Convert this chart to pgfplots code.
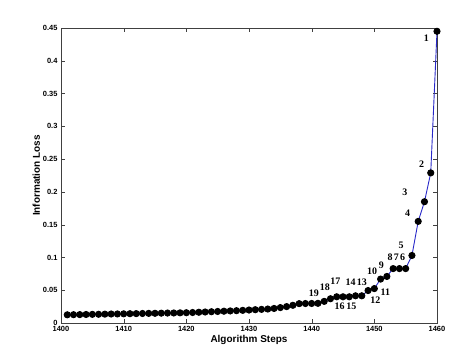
\documentclass[border=0pt]{standalone}
\usepackage{pgfplots}
\pgfplotsset{compat=1.18}
\usepackage{fontspec}
\setmainfont{Liberation Sans}
\newfontfamily\serifnum{Liberation Serif}
\definecolor{lineblue}{RGB}{40,40,200}
\begin{document}
\begin{tikzpicture}[x=1bp,y=1bp]
\begin{axis}[
  scale only axis,
  width=376bp, height=295bp,
  xmin=1400, xmax=1460, ymin=0, ymax=0.45,
  xtick={1400,1410,...,1460},
  ytick={0,0.05,...,0.45},
  axis line style={black!75},
  tick style={black!75, major tick length=4bp},
  tick align=inside,
  /pgf/number format/assume math mode=true,
  xticklabel style={font=\fontsize{7.5}{8}\selectfont\bfseries, /pgf/number format/1000 sep={}},
  yticklabel style={font=\fontsize{7.5}{8}\selectfont\bfseries, /pgf/number format/fixed, /pgf/number format/precision=2},
  scaled y ticks=false,
  xlabel={Algorithm Steps},
  ylabel={Information Loss},
  xlabel style={font=\fontsize{10}{12}\selectfont\bfseries, yshift=3bp},
  ylabel style={font=\fontsize{10}{12}\selectfont\bfseries, yshift=-4bp},
  clip=false,
]
\addplot[lineblue, line width=0.9bp, mark=*, mark size=3.1bp, mark options={black, fill=black}] coordinates {
(1401,0.0125)(1402,0.0127)(1403,0.0128)(1404,0.0130)(1405,0.0132)
(1406,0.0133)(1407,0.0135)(1408,0.0137)(1409,0.0138)(1410,0.0140)
(1411,0.0142)(1412,0.0143)(1413,0.0145)(1414,0.0147)(1415,0.0148)
(1416,0.0150)(1417,0.0152)(1418,0.0153)(1419,0.0155)(1420,0.0157)
(1421,0.0160)(1422,0.0164)(1423,0.0168)(1424,0.0172)(1425,0.0176)
(1426,0.0180)(1427,0.0184)(1428,0.0188)(1429,0.0193)(1430,0.0198)
(1431,0.0203)(1432,0.0208)(1433,0.0213)(1434,0.0222)(1435,0.0235)
(1436,0.0250)(1437,0.0270)(1438,0.0295)(1439,0.0297)(1440,0.0298)
(1441,0.0300)(1442,0.0330)(1443,0.0370)(1444,0.0400)(1445,0.0400)
(1446,0.0400)(1447,0.0415)(1448,0.0415)(1449,0.0495)(1450,0.0525)
(1451,0.0670)(1452,0.0710)(1453,0.0830)(1454,0.0830)(1455,0.0830)
(1456,0.1030)(1457,0.1550)(1458,0.1850)(1459,0.2290)(1460,0.4450)
};
\begin{scope}[every node/.style={font=\serifnum\fontsize{10}{12}\selectfont\bfseries, inner sep=0pt}]
\node at (axis cs:1460,0.4450) [xshift=-10.6bp, yshift=-7.3bp] {1};
\node at (axis cs:1459,0.2290) [xshift=-9bp, yshift=8.7bp] {2};
\node at (axis cs:1458,0.1850) [xshift=-19.7bp, yshift=9.7bp] {3};
\node at (axis cs:1457,0.1550) [xshift=-10.6bp, yshift=8bp] {4};
\node at (axis cs:1456,0.1030) [xshift=-10.7bp, yshift=10.4bp] {5};
\node at (axis cs:1455,0.0830) [xshift=-3bp, yshift=11bp] {6};
\node at (axis cs:1454,0.0830) [xshift=-3bp, yshift=11bp] {7};
\node at (axis cs:1453,0.0830) [xshift=-3bp, yshift=11bp] {8};
\node at (axis cs:1452,0.0710) [xshift=-5.6bp, yshift=11.7bp] {9};
\node at (axis cs:1451,0.0670) [xshift=-8.6bp, yshift=8.3bp] {10};
\node at (axis cs:1450,0.0525) [xshift=11bp, yshift=-3.3bp] {11};
\node at (axis cs:1449,0.0495) [xshift=7.3bp, yshift=-9.3bp] {12};
\node at (axis cs:1448,0.0415) [xshift=0bp, yshift=14bp] {13};
\node at (axis cs:1447,0.0415) [xshift=-5bp, yshift=14bp] {14};
\node at (axis cs:1446,0.0400) [xshift=2bp, yshift=-9.4bp] {15};
\node at (axis cs:1445,0.0400) [xshift=-3.5bp, yshift=-9.4bp] {16};
\node at (axis cs:1444,0.0400) [xshift=-1.3bp, yshift=15.6bp] {17};
\node at (axis cs:1443,0.0370) [xshift=-5.7bp, yshift=12bp] {18};
\node at (axis cs:1442,0.0330) [xshift=-10.4bp, yshift=8.3bp] {19};
\end{scope}
\end{axis}
\path[use as bounding box] (current axis.south west) ++(-61bp,-41bp) rectangle ++(474bp,364bp);
\end{tikzpicture}
\end{document}
